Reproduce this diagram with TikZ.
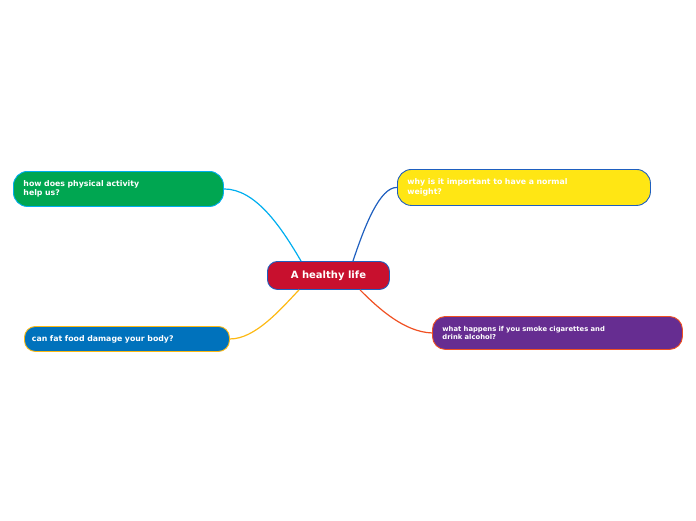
\documentclass[tikz,border=0pt]{standalone}
\usepackage{fontspec}
\setmainfont{DejaVu Sans}
\begin{document}
\begin{tikzpicture}[x=1pt,y=-1pt,
  box/.style={draw,line width=0.9pt,rounded corners=12pt,text=white,font=\bfseries,anchor=north west,inner sep=0pt},
  link/.style={line width=1.2pt}]
\useasboundingbox (0,0) rectangle (696,520);
\definecolor{cred}{HTML}{C8102E}\definecolor{cgreen}{HTML}{00A651}\definecolor{cyel}{HTML}{FFE614}
\definecolor{cpur}{HTML}{662D91}\definecolor{cblue}{HTML}{0072BC}\definecolor{lblue}{HTML}{00AEEF}
\definecolor{dblue}{HTML}{1F5FBF}\definecolor{corg}{HTML}{F05022}\definecolor{cgold}{HTML}{FDB913}
\node[box,draw=dblue,fill=cred,minimum width=122pt,minimum height=28pt,rounded corners=10pt,font=\bfseries\fontsize{10}{12}\selectfont] (c) at (267,261) {A healthy life};
\node[box,draw=lblue,fill=cgreen,minimum width=210pt,minimum height=35pt,rounded corners=14pt,font=\bfseries\fontsize{7.8}{9.5}\selectfont,align=left,text width=190pt,inner xsep=10pt] (g) at (13,171) {how does physical activity\\help us?};
\node[box,draw=dblue,fill=cyel,minimum width=253pt,minimum height=36pt,rounded corners=14pt,font=\bfseries\fontsize{7.8}{9.5}\selectfont,align=left,text width=233pt,inner xsep=10pt] (y) at (397,169) {why is it important to have a normal\\weight?};
\node[box,draw=corg,fill=cpur,minimum width=250pt,minimum height=33pt,rounded corners=13pt,font=\bfseries\fontsize{6.8}{8.5}\selectfont,align=left,text width=230pt,inner xsep=10pt] (p) at (432,316) {what happens if you smoke cigarettes and\\drink alcohol?};
\node[box,draw=cgold,fill=cblue,minimum width=205pt,minimum height=25pt,rounded corners=11pt,font=\bfseries\fontsize{7.8}{9.5}\selectfont,align=left,text width=190pt,inner xsep=7.5pt] (b) at (24,326) {can fat food damage your body?};
\draw[link,lblue] (g.east) .. controls (255,189) and (280,225) .. (c.north west -| 301,261);
\draw[link,dblue] (y.west) .. controls (380,187) and (365,225) .. (c.north west -| 353,261);
\draw[link,cgold] (b.east) .. controls (255,339) and (280,310) .. (c.south west -| 299,289);
\draw[link,corg] (p.west) .. controls (405,332) and (380,310) .. (c.south west -| 360,289);
\end{tikzpicture}
\end{document}
